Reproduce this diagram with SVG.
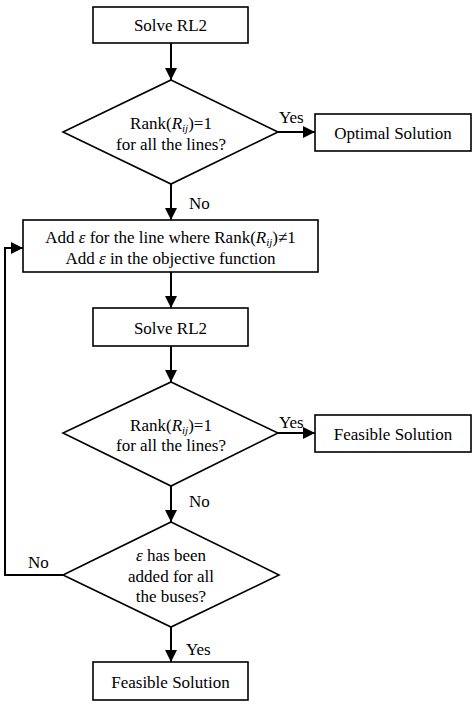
<svg xmlns="http://www.w3.org/2000/svg" width="474" height="706" viewBox="0 0 474 706" font-family="Liberation Serif, Times New Roman, serif">
<style>
.box{fill:#fff;stroke:#000;stroke-width:1.6}
.t{font-size:17px;fill:#000;text-anchor:middle}
.l{font-size:17px;fill:#000}
.c{fill:none;stroke:#000;stroke-width:2}
.i{font-style:italic}
.s{font-style:italic;font-size:11px}
</style>
<defs>
<marker id="ah" markerUnits="userSpaceOnUse" markerWidth="12" markerHeight="12" refX="12" refY="6" orient="auto">
<path d="M0,0 L12,6 L0,12 z" fill="#000"/>
</marker>
</defs>
<rect width="474" height="706" fill="#fff"/>
<g id="connectors">
<line class="c" x1="171" y1="43" x2="171" y2="80" marker-end="url(#ah)"/>
<line class="c" x1="278" y1="132" x2="315" y2="132" marker-end="url(#ah)"/>
<line class="c" x1="171" y1="184" x2="171" y2="220" marker-end="url(#ah)"/>
<line class="c" x1="171" y1="272" x2="171" y2="308" marker-end="url(#ah)"/>
<line class="c" x1="171" y1="346" x2="171" y2="382" marker-end="url(#ah)"/>
<line class="c" x1="278" y1="433" x2="315" y2="433" marker-end="url(#ah)"/>
<line class="c" x1="171" y1="486" x2="171" y2="522" marker-end="url(#ah)"/>
<line class="c" x1="171" y1="627" x2="171" y2="662" marker-end="url(#ah)"/>
<polyline class="c" points="63,575 5,575 5,248 23,248" marker-end="url(#ah)"/>
<text class="l" x="279" y="123">Yes</text>
<text class="l" x="189" y="209">No</text>
<text class="l" x="279" y="428">Yes</text>
<text class="l" x="189" y="507">No</text>
<text class="l" x="28" y="568">No</text>
<text class="l" x="186" y="655">Yes</text>
</g>
<g id="solve1">
<rect class="box" x="93" y="7" width="155" height="36"/>
<text class="t" x="170.5" y="31">Solve RL2</text>
</g>
<g id="check1">
<polygon class="box" points="171,80 278,132 171,184 63,132"/>
<text class="t" x="171" y="129">Rank(<tspan class="i">R</tspan><tspan class="s" dy="3">ij</tspan><tspan dy="-3">)=1</tspan></text>
<text class="t" x="171" y="150">for all the lines?</text>
</g>
<g id="optimal">
<rect class="box" x="315" y="114" width="156" height="37"/>
<text class="t" x="393" y="139">Optimal Solution</text>
</g>
<g id="addeps">
<rect class="box" x="23" y="220" width="295" height="52"/>
<text class="t" x="170.5" y="243">Add <tspan class="i">ε</tspan> for the line where Rank(<tspan class="i">R</tspan><tspan class="s" dy="3">ij</tspan><tspan dy="-3">)≠1</tspan></text>
<text class="t" x="170.5" y="264">Add <tspan class="i">ε</tspan> in the objective function</text>
</g>
<g id="solve2">
<rect class="box" x="93" y="308" width="155" height="38"/>
<text class="t" x="170.5" y="334">Solve RL2</text>
</g>
<g id="check2">
<polygon class="box" points="171,382 278,433 171,486 63,433"/>
<text class="t" x="171" y="431">Rank(<tspan class="i">R</tspan><tspan class="s" dy="3">ij</tspan><tspan dy="-3">)=1</tspan></text>
<text class="t" x="171" y="451">for all the lines?</text>
</g>
<g id="feasible1">
<rect class="box" x="315" y="415" width="156" height="37"/>
<text class="t" x="393" y="440">Feasible Solution</text>
</g>
<g id="check3">
<polygon class="box" points="171,522 279,575 171,627 63,575"/>
<text class="t" x="171" y="561"><tspan class="i">ε</tspan> has been</text>
<text class="t" x="171" y="582">added for all</text>
<text class="t" x="171" y="602">the buses?</text>
</g>
<g id="feasible2">
<rect class="box" x="93" y="662" width="155" height="38"/>
<text class="t" x="170.5" y="688">Feasible Solution</text>
</g>
</svg>
